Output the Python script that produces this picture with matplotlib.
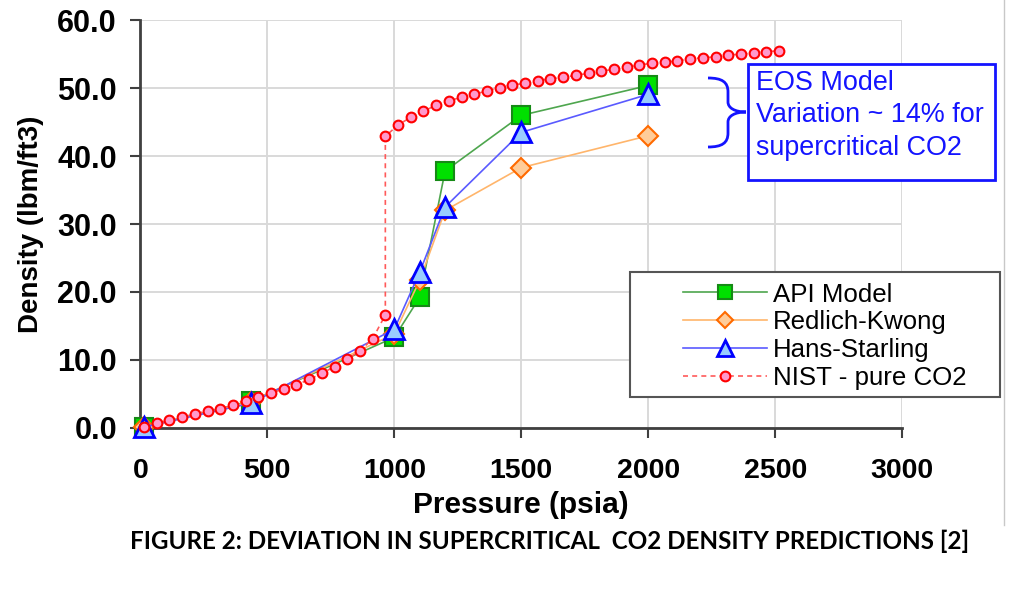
import matplotlib
matplotlib.use("Agg")
import matplotlib.pyplot as plt
from matplotlib.lines import Line2D
from matplotlib.patches import Rectangle, PathPatch
from matplotlib.path import Path

plt.rcParams['font.family'] = ['Liberation Sans', 'DejaVu Sans']

# ---------------- data ----------------
nist_p = [14.7, 64.7, 114.7, 164.7, 214.7, 264.7, 314.7, 364.7, 414.7, 464.7,
          514.7, 564.7, 614.7, 664.7, 714.7, 764.7, 814.7, 864.7, 914.7, 964.7,
          964.7, 1014.7, 1064.7, 1114.7, 1164.7, 1214.7, 1264.7, 1314.7, 1364.7,
          1414.7, 1464.7, 1514.7, 1564.7, 1614.7, 1664.7, 1714.7, 1764.7, 1814.7,
          1864.7, 1914.7, 1964.7, 2014.7, 2064.7, 2114.7, 2164.7, 2214.7, 2264.7,
          2314.7, 2364.7, 2414.7, 2464.7, 2514.7]
nist_rho = [0.15, 0.7, 1.1, 1.6, 2.0, 2.5, 2.8, 3.3, 4.0, 4.5,
            5.1, 5.7, 6.3, 7.1, 8.0, 9.0, 10.1, 11.3, 13.1, 16.6,
            42.9, 44.6, 45.7, 46.6, 47.5, 48.1, 48.7, 49.1, 49.6,
            50.1, 50.5, 50.7, 51.1, 51.4, 51.6, 51.9, 52.2, 52.5,
            52.8, 53.1, 53.4, 53.7, 53.8, 54.05, 54.3, 54.5, 54.6,
            54.9, 55.0, 55.2, 55.4, 55.5]

model_p = [14.7, 435, 1000, 1100, 1200, 1500, 2000]
api_rho = [0.1, 3.9, 13.3, 19.2, 37.8, 46.0, 50.4]
rk_rho = [0.1, 3.8, 13.8, 21.7, 32.0, 38.3, 43.0]
hs_rho = [0.1, 3.6, 14.5, 22.9, 32.5, 43.5, 49.1]

series_names = ["API Model", "Redlich-Kwong", "Hans-Starling", "NIST - pure CO2"]
x_ticks = [0, 500, 1000, 1500, 2000, 2500, 3000]
x_tick_labels = ["0", "500", "1000", "1500", "2000", "2500", "3000"]
y_ticks = [0, 10, 20, 30, 40, 50, 60]
y_tick_labels = ["0.0", "10.0", "20.0", "30.0", "40.0", "50.0", "60.0"]
x_label = "Pressure (psia)"
y_label = "Density (lbm/ft3)"
note_lines = ["EOS Model", "Variation ~ 14% for", "supercritical CO2"]
caption = "FIGURE 2: DEVIATION IN SUPERCRITICAL  CO2 DENSITY PREDICTIONS [2]"

# ---------------- figure ----------------
W, H = 1024, 608
fig = plt.figure(figsize=(W / 100, H / 100), dpi=100)
fig.patch.set_facecolor("white")


def fx(x):
    return x / W


def fy(y):
    return 1 - y / H


ax_l, ax_r, ax_t, ax_b = 140.3, 902.3, 20.3, 427.7
ax = fig.add_axes([fx(ax_l), fy(ax_b), (ax_r - ax_l) / W, (ax_b - ax_t) / H])
ax.set_zorder(1)

styles = [
    dict(color="#4ea64e", marker="s", ms=13, mfc="#00e000", mec="#168a16", mew=1.5),
    dict(color="#ffb56b", marker="D", ms=9.7, mfc="#ffcc99", mec="#ff6a00", mew=1.5),
    dict(color="#5a5aff", marker="^", ms=14, mfc="#99ccff", mec="#0000ff", mew=2.0),
]
for rho, st in zip([api_rho, rk_rho, hs_rho], styles):
    ax.plot(model_p, rho, lw=1.2, clip_on=False, zorder=3, **st)
ax.plot(nist_p, nist_rho, color="#ff5a5a", lw=1.2, ls=(0, (3, 2.5)), marker="o",
        ms=7, mfc="#ff99cc", mec="#ff0000", mew=1.5, clip_on=False, zorder=4)

ax.set_xlim(0, 3000)
ax.set_ylim(0, 60)
ax.set_xticks(x_ticks, labels=x_tick_labels, fontweight="bold", fontsize=20.5)
ax.set_yticks(y_ticks, labels=y_tick_labels, fontweight="bold", fontsize=22)
ax.tick_params(axis="both", direction="out", length=7, width=1.5, color="#404040")
ax.tick_params(axis="x", pad=14.5)
ax.tick_params(axis="y", pad=9.8)
ax.grid(True, color="#d9d9d9", lw=1.4)
ax.set_axisbelow(True)
for s in ["top", "right"]:
    ax.spines[s].set_visible(False)
for s in ["left", "bottom"]:
    ax.spines[s].set_color("#404040")
    ax.spines[s].set_linewidth(2)

ax.set_xlabel(x_label, fontsize=21.5, fontweight="bold")
ax.xaxis.label.set_verticalalignment("baseline")
ax.xaxis.set_label_coords(0.5, (ax_b - 513.3) / (ax_b - ax_t))
ax.set_ylabel(y_label, fontsize=20, fontweight="bold")
ax.yaxis.label.set_verticalalignment("center")
ax.yaxis.set_label_coords((31 - ax_l) / (ax_r - ax_l), 0.5)

# ---------------- legend ----------------
handles = [
    Line2D([], [], color="#4ea64e", lw=1.2, marker="s", ms=10.5, mfc="#00e000", mec="#168a16", mew=1.5),
    Line2D([], [], color="#ffb56b", lw=1.2, marker="D", ms=8.3, mfc="#ffcc99", mec="#ff6a00", mew=1.5),
    Line2D([], [], color="#5a5aff", lw=1.2, marker="^", ms=12, mfc="#99ccff", mec="#0000ff", mew=2.0),
    Line2D([], [], color="#ff5a5a", lw=1.2, ls=(0, (3, 2.5)), marker="o", ms=7, mfc="#ff99cc", mec="#ff0000", mew=1.5),
]
fig.add_artist(Rectangle((fx(630), fy(397.3)), fx(1000) - fx(630), fy(272.3) - fy(397.3),
                         transform=fig.transFigure, facecolor="white", edgecolor="#555555",
                         lw=1.5, zorder=2))
leg = fig.legend(handles, series_names, loc="upper left",
                 bbox_to_anchor=(fx(682.7), fy(282.5)), bbox_transform=fig.transFigure,
                 frameon=False, borderpad=0, borderaxespad=0, fontsize=18.6,
                 handlelength=3.25, handletextpad=0.25, labelspacing=0.15)
leg.set_zorder(6)

# ---------------- annotation box ----------------
blue = "#1414ff"
fig.add_artist(Rectangle((fx(748), fy(180)), fx(995) - fx(748), fy(64) - fy(180),
                         transform=fig.transFigure, facecolor="white", edgecolor=blue,
                         lw=2, zorder=3))
note_texts = []
for line, yb in zip(note_lines, [90, 122, 155]):
    note_texts.append(fig.text(fx(756), fy(yb), line, color=blue, fontsize=18,
                               va="baseline", ha="left", zorder=4))

brace_px = [(708, 78), (722, 78), (728, 82), (728, 92),
            (728, 102),
            (728, 108), (735, 112), (746, 112),
            (735, 112), (728, 116), (728, 122),
            (728, 133),
            (728, 143), (722, 147), (708, 147)]
codes = [Path.MOVETO, Path.CURVE4, Path.CURVE4, Path.CURVE4,
         Path.LINETO,
         Path.CURVE4, Path.CURVE4, Path.CURVE4,
         Path.CURVE4, Path.CURVE4, Path.CURVE4,
         Path.LINETO,
         Path.CURVE4, Path.CURVE4, Path.CURVE4]
verts = [(fx(x), fy(y)) for x, y in brace_px]
fig.add_artist(PathPatch(Path(verts, codes), transform=fig.transFigure, fill=False,
                         edgecolor=blue, lw=2, zorder=4))

# chart area border (right)
fig.add_artist(Line2D([fx(1004), fx(1004)], [fy(0), fy(525)], color="#c8c8c8", lw=1,
                      transform=fig.transFigure, zorder=2))

# ---------------- caption ----------------
cap = fig.text(fx(130), fy(548.7), caption, fontfamily=["Lato", "DejaVu Sans"], fontweight="bold",
               fontsize=20, va="baseline", ha="left")
fig.canvas.draw()
bb = cap.get_window_extent()
cap.set_fontsize(20 * 838 / bb.width)
bb2 = note_texts[1].get_window_extent()
for t in note_texts:
    t.set_fontsize(18 * 227 / bb2.width)

fig.savefig("out.png", dpi=100)
